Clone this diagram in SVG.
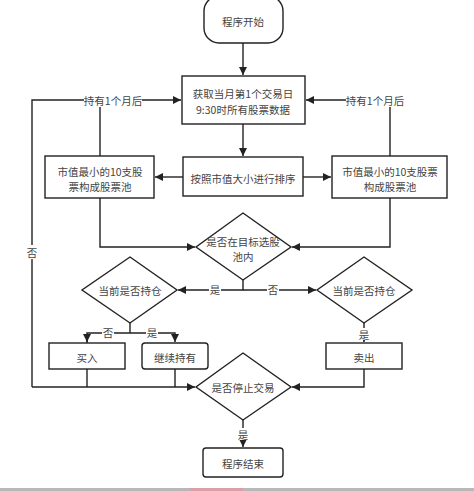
<svg xmlns="http://www.w3.org/2000/svg" width="474" height="491" viewBox="0 0 474 491">
<style>
.n{fill:#fff;stroke:#222;stroke-width:1.4}
.c{fill:none;stroke:#222;stroke-width:1.4}
text{font-family:"Noto Sans CJK SC","Liberation Sans",sans-serif;font-size:10.5px;fill:#444;text-anchor:middle;dominant-baseline:central}
.lb{fill:#fff;stroke:none}
</style>
<defs>
<marker id="a" viewBox="0 0 10 10" refX="10" refY="5" markerWidth="8" markerHeight="8" markerUnits="userSpaceOnUse" orient="auto">
<path d="M0,0 L10,5 L0,10 z" fill="#222"/>
</marker>
</defs>
<rect width="474" height="491" fill="#fff"/>
<g id="connectors">
<path class="c" d="M243,43 V75" marker-end="url(#a)"/>
<path class="c" d="M243,124 V156" marker-end="url(#a)"/>
<path class="c" d="M183,177 H155" marker-end="url(#a)"/>
<path class="c" d="M303,177 H331" marker-end="url(#a)"/>
<path class="c" d="M100,156 V100"/>
<path class="c" d="M32,387 V100 H181" marker-end="url(#a)"/>
<path class="c" d="M390,156 V100 H306" marker-end="url(#a)"/>
<path class="c" d="M100,198 V247 H195" marker-end="url(#a)"/>
<path class="c" d="M390,198 V247 H292" marker-end="url(#a)"/>
<path class="c" d="M243,280 V290 H178" marker-end="url(#a)"/>
<path class="c" d="M243,290 H316" marker-end="url(#a)"/>
<path class="c" d="M130,323 V333"/>
<path class="c" d="M87,343 V333 H175 V342" marker-end="url(#a)"/>
<path class="c" d="M87,334 V342" marker-end="url(#a)"/>
<path class="c" d="M364,323 V342" marker-end="url(#a)"/>
<path class="c" d="M87,369 V387"/>
<path class="c" d="M175,369 V387"/>
<path class="c" d="M32,387 H195" marker-end="url(#a)"/>
<path class="c" d="M364,369 V387 H292" marker-end="url(#a)"/>
<path class="c" d="M243,420 V447" marker-end="url(#a)"/>
<rect class="lb" x="84" y="93" width="58" height="14"/>
<text x="113" y="100">持有1个月后</text>
<rect class="lb" x="346" y="93" width="58" height="14"/>
<text x="375" y="100">持有1个月后</text>
<rect class="lb" x="26" y="245" width="12" height="14"/>
<text x="32" y="252">否</text>
<rect class="lb" x="209" y="283" width="12" height="14"/>
<text x="215" y="289">是</text>
<rect class="lb" x="267" y="283" width="12" height="14"/>
<text x="273" y="289">否</text>
<rect class="lb" x="102" y="326" width="12" height="14"/>
<text x="108" y="332">否</text>
<rect class="lb" x="146" y="326" width="12" height="14"/>
<text x="152" y="332">是</text>
<rect class="lb" x="358" y="328" width="12" height="12"/>
<text x="364" y="334">是</text>
<rect class="lb" x="237" y="428" width="12" height="12"/>
<text x="243" y="434">是</text>
</g>
<g id="start">
<rect class="n" x="204" y="-4" width="79" height="47" rx="15"/>
<text x="243" y="21">程序开始</text>
</g>
<g id="fetch">
<rect class="n" x="182" y="76" width="123" height="48"/>
<text x="243" y="93">获取当月第1个交易日</text>
<text x="243" y="109">9:30时所有股票数据</text>
</g>
<g id="sort">
<rect class="n" x="183" y="157" width="120" height="39"/>
<text x="243" y="178">按照市值大小进行排序</text>
</g>
<g id="poolL">
<rect class="n" x="45" y="156" width="109" height="42"/>
<text x="100" y="171">市值最小的10支股</text>
<text x="100" y="186">票构成股票池</text>
</g>
<g id="poolR">
<rect class="n" x="332" y="156" width="115" height="42"/>
<text x="390" y="171">市值最小的10支股票</text>
<text x="390" y="186">构成股票池</text>
</g>
<g id="inPool">
<path class="n" d="M243,213 L291,247 L243,280 L196,247 Z"/>
<text x="243" y="241">是否在目标选股</text>
<text x="243" y="256">池内</text>
</g>
<g id="holdL">
<path class="n" d="M130,257 L177,290 L130,323 L82,290 Z"/>
<text x="130" y="290">当前是否持仓</text>
</g>
<g id="holdR">
<path class="n" d="M364,257 L412,290 L364,323 L317,290 Z"/>
<text x="364" y="290">当前是否持仓</text>
</g>
<g id="buy">
<rect class="n" x="49" y="343" width="76" height="26"/>
<text x="87" y="357">买入</text>
</g>
<g id="keep">
<rect class="n" x="142" y="343" width="66" height="26" rx="3"/>
<text x="175" y="357">继续持有</text>
</g>
<g id="sell">
<rect class="n" x="326" y="343" width="76" height="26"/>
<text x="364" y="357">卖出</text>
</g>
<g id="stop">
<path class="n" d="M243,353 L291,387 L243,420 L196,387 Z"/>
<text x="243" y="387">是否停止交易</text>
</g>
<g id="end">
<rect class="n" x="203" y="448" width="80" height="29" rx="3"/>
<text x="243" y="463">程序结束</text>
</g>
<rect x="0" y="488" width="474" height="3" fill="#b8b8b8"/>
<rect x="190" y="488" width="53" height="3" fill="#d9a0a8"/>
</svg>
